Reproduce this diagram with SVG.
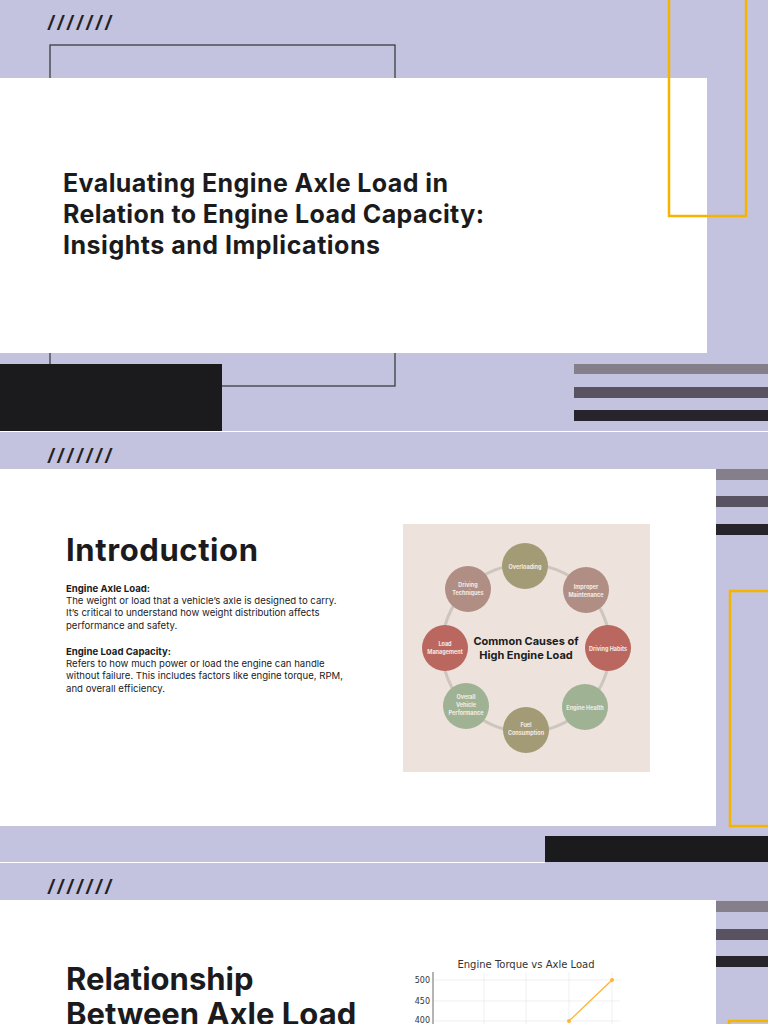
<svg xmlns="http://www.w3.org/2000/svg" width="768" height="1024" viewBox="0 0 768 1024">
<style>
.bg{fill:#c3c3df}
.w{fill:#fff}
.b1{fill:#857f8b}.b2{fill:#595260}.b3{fill:#27252b}
.y{fill:none;stroke:#f5b400;stroke-width:2.5}
.sl{font-family:"Liberation Sans",Arial,sans-serif;font-style:italic;font-weight:bold;font-size:20px;fill:#222;letter-spacing:4px}
.t{font-family:Inter,"Liberation Sans",sans-serif;fill:#1b1b1d}
.c{font-family:Inter,"Liberation Sans",sans-serif;font-size:5.5px;font-weight:bold;fill:#f4ece6;text-anchor:middle}
.ax{font-family:"DejaVu Sans",sans-serif;font-size:8px;fill:#333}
</style>
<rect width="768" height="1024" class="bg"/>
<g id="slide1">
<text x="48" y="30" class="sl">///////</text>
<rect x="50" y="45" width="345" height="341" fill="none" stroke="#333" stroke-width="1.2"/>
<rect x="0" y="78" width="707" height="275" class="w"/>
<rect x="669" y="-5" width="77" height="221" class="y"/>
<rect x="0" y="364" width="222" height="67" fill="#1b1b1d"/>
<rect x="574" y="364" width="194" height="10" class="b1"/>
<rect x="574" y="387" width="194" height="11" class="b2"/>
<rect x="574" y="410" width="194" height="11" class="b3"/>
<text class="t" font-size="25" font-weight="bold"><tspan x="63" y="192" textLength="385" lengthAdjust="spacing">Evaluating Engine Axle Load in</tspan><tspan x="63" y="223" textLength="421" lengthAdjust="spacing">Relation to Engine Load Capacity:</tspan><tspan x="63" y="254" textLength="317" lengthAdjust="spacing">Insights and Implications</tspan></text>
</g>
<line x1="0" y1="431.5" x2="768" y2="431.5" stroke="#fff" stroke-width="1"/>
<g id="slide2">
<text x="48" y="463" class="sl">///////</text>
<rect x="0" y="469" width="716" height="357" class="w"/>
<rect x="716" y="469" width="52" height="11" class="b1"/>
<rect x="716" y="496" width="52" height="11" class="b2"/>
<rect x="716" y="524" width="52" height="11" class="b3"/>
<rect x="730" y="591" width="45" height="235" class="y"/>
<rect x="545" y="836" width="223" height="26" fill="#1b1b1d"/>
<text x="66" y="561" class="t" font-size="31" font-weight="bold" textLength="192" lengthAdjust="spacing">Introduction</text>
<text class="t" font-size="9.6"><tspan x="66" y="592" font-weight="bold">Engine Axle Load:</tspan><tspan x="66" y="604">The weight or load that a vehicle’s axle is designed to carry.</tspan><tspan x="66" y="616">It’s critical to understand how weight distribution affects</tspan><tspan x="66" y="629">performance and safety.</tspan><tspan x="66" y="655" font-weight="bold">Engine Load Capacity:</tspan><tspan x="66" y="667">Refers to how much power or load the engine can handle</tspan><tspan x="66" y="679">without failure. This includes factors like engine torque, RPM,</tspan><tspan x="66" y="692">and overall efficiency.</tspan></text>
</g>
<g id="causes">
<rect x="403" y="524" width="247" height="248" fill="#ede3dc"/>
<circle cx="526" cy="648" r="84" fill="none" stroke="#cdc6bf" stroke-width="3"/>
<g id="n-overloading"><circle cx="525" cy="566" r="23" fill="#a39a76"/><text x="525" y="569" class="c">Overloading</text></g>
<g id="n-improper"><circle cx="586" cy="590" r="23" fill="#b08e84"/><text x="586" y="589" class="c">Improper</text><text x="586" y="597" class="c">Maintenance</text></g>
<g id="n-habits"><circle cx="608" cy="648" r="23" fill="#b9675f"/><text x="608" y="651" class="c">Driving Habits</text></g>
<g id="n-health"><circle cx="585" cy="707" r="23" fill="#9fb394"/><text x="585" y="710" class="c">Engine Health</text></g>
<g id="n-fuel"><circle cx="526" cy="730" r="23" fill="#a39a76"/><text x="526" y="727" class="c">Fuel</text><text x="526" y="735" class="c">Consumption</text></g>
<g id="n-overall"><circle cx="466" cy="706" r="23" fill="#9fb394"/><text x="466" y="699" class="c">Overall</text><text x="466" y="707" class="c">Vehicle</text><text x="466" y="715" class="c">Performance</text></g>
<g id="n-load"><circle cx="445" cy="648" r="23" fill="#b9675f"/><text x="445" y="646" class="c">Load</text><text x="445" y="654" class="c">Management</text></g>
<g id="n-tech"><circle cx="468" cy="589" r="23" fill="#b08e84"/><text x="468" y="587" class="c">Driving</text><text x="468" y="595" class="c">Techniques</text></g>
<text x="526" y="645" class="t" font-size="11" font-weight="bold" fill="#3a3535" text-anchor="middle">Common Causes of</text>
<text x="526" y="659" class="t" font-size="11" font-weight="bold" fill="#3a3535" text-anchor="middle">High Engine Load</text>
</g>
<line x1="0" y1="862.5" x2="545" y2="862.5" stroke="#fff" stroke-width="1"/>
<g id="slide3">
<text x="48" y="894" class="sl">///////</text>
<rect x="0" y="900" width="716" height="124" class="w"/>
<rect x="716" y="901" width="52" height="11" class="b1"/>
<rect x="716" y="929" width="52" height="11" class="b2"/>
<rect x="716" y="956" width="52" height="11" class="b3"/>
<rect x="729" y="1021" width="45" height="20" class="y"/>
<text class="t" font-size="31" font-weight="bold"><tspan x="66" y="990">Relationship</tspan><tspan x="66" y="1025">Between Axle Load</tspan></text>
</g>
<g id="chart">
<text x="526" y="968" font-family="DejaVu Sans,sans-serif" font-size="10" fill="#333" text-anchor="middle">Engine Torque vs Axle Load</text>
<g stroke="#e6e6e6" stroke-width="0.6"><line x1="484" y1="972" x2="484" y2="1024"/><line x1="526" y1="972" x2="526" y2="1024"/><line x1="569" y1="972" x2="569" y2="1024"/><line x1="612" y1="972" x2="612" y2="1024"/><line x1="433" y1="980" x2="620" y2="980"/><line x1="433" y1="1001" x2="620" y2="1001"/><line x1="433" y1="1021" x2="620" y2="1021"/></g>
<line x1="433" y1="972" x2="433" y2="1024" stroke="#444" stroke-width="0.8"/>
<text x="430" y="983" class="ax" text-anchor="end">500</text>
<text x="430" y="1004" class="ax" text-anchor="end">450</text>
<text x="430" y="1023" class="ax" text-anchor="end">400</text>
<polyline points="569,1021 612,980" fill="none" stroke="#ffb52e" stroke-width="1.3"/>
<circle cx="569" cy="1021" r="2" fill="#ffb52e"/><circle cx="612" cy="980" r="2" fill="#ffb52e"/>
</g>
</svg>
